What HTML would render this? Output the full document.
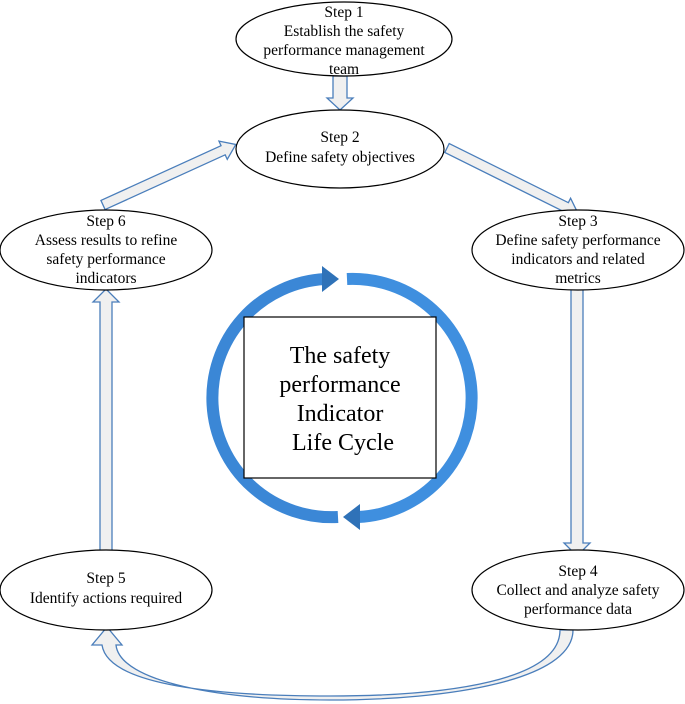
<!DOCTYPE html>
<html><head><style>body{margin:0;background:#fff}svg{display:block}text{font-family:"Liberation Serif",serif;fill:#000}</style></head>
<body>
<svg width="685" height="704" viewBox="0 0 685 704" xmlns="http://www.w3.org/2000/svg">
<g fill="#f0f0f0" stroke="#4a7ebb" stroke-width="1.3">
<polygon points="333,76 347,76 347,98 353,98 340,110 327,98 333,98"/>
<g transform="translate(447,148) rotate(26.4)"><polygon points="0,-5 133,-5 133,-10 146,0 133,10 133,5 0,5"/></g>
<g transform="translate(103,205) rotate(-24.5)"><polygon points="0,-5 132,-5 132,-10 146,0 132,10 132,5 0,5"/></g>
<polygon points="571,289 583,289 583,543 590,543 577,556 564,543 571,543"/>
<polygon points="100,552 112,552 112,302 119,302 106,289 93,302 100,302"/>
<path d="M560,630 L573,630 C573,680 450,700 330,700 C220,700 120,682 116,645 L122,645 L107,627 L92,645 L102,645 C108,686 220,696 330,696 C450,696 560,680 560,630 Z"/>
</g>
<g fill="#fff" stroke="#000" stroke-width="1.2">
<ellipse cx="344" cy="39" rx="108" ry="37"/>
<ellipse cx="340" cy="149" rx="104" ry="39"/>
<ellipse cx="106" cy="250" rx="106" ry="40"/>
<ellipse cx="578" cy="250" rx="106" ry="40"/>
<ellipse cx="106" cy="590" rx="106" ry="40"/>
<ellipse cx="578" cy="590" rx="106" ry="40"/>
</g>
<g font-size="15.5" text-anchor="middle">
<text x="344" y="17">Step 1</text>
<text x="344" y="36">Establish the safety</text>
<text x="344" y="55">performance management</text>
<text x="344" y="74">team</text>
<text x="340" y="142">Step 2</text>
<text x="340" y="162">Define safety objectives</text>
<text x="106" y="226">Step 6</text>
<text x="106" y="245">Assess results to refine</text>
<text x="106" y="264">safety performance</text>
<text x="106" y="283">indicators</text>
<text x="578" y="226">Step 3</text>
<text x="578" y="245">Define safety performance</text>
<text x="578" y="264">indicators and related</text>
<text x="578" y="283">metrics</text>
<text x="106" y="583">Step 5</text>
<text x="106" y="603">Identify actions required</text>
<text x="578" y="576">Step 4</text>
<text x="578" y="595">Collect and analyze safety</text>
<text x="578" y="614">performance data</text>
</g>
<g fill="none" stroke-width="12">
<path d="M338,517 A119,119 0 0 1 325,279" stroke="#3b87d6"/>
<path d="M347,279 A119,119 0 0 1 358,517" stroke="#3f8fdf"/>
</g>
<polygon points="322,266 339,279 322,292" fill="#2f72b8"/>
<polygon points="360,504 343,517 360,530" fill="#2f72b8"/>
<rect x="244" y="317" width="192" height="161" fill="#fff" stroke="#000" stroke-width="1.2"/>
<g font-size="24" text-anchor="middle">
<text x="340" y="363">The safety</text>
<text x="340" y="392">performance</text>
<text x="340" y="421">Indicator</text>
<text x="343" y="450">Life Cycle</text>
</g>
</svg>
</body></html>
